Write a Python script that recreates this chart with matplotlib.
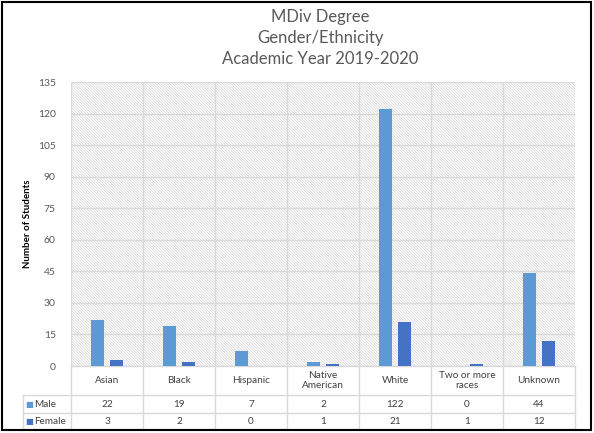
import matplotlib
matplotlib.use("Agg")
import matplotlib.pyplot as plt
from matplotlib.patches import Rectangle
from matplotlib.transforms import blended_transform_factory
import numpy as np

categories = ["Asian", "Black", "Hispanic", "Native\nAmerican", "White",
              "Two or more\nraces", "Unknown"]
male = [22, 19, 7, 2, 122, 0, 44]
female = [3, 2, 0, 1, 21, 1, 12]
series_names = ["Male", "Female"]
yticks = list(range(0, 136, 15))

title = "MDiv Degree\nGender/Ethnicity\nAcademic Year 2019-2020"
ylabel = "Number of Students"

male_color = "#5b9bd5"
female_color = "#4472c4"
grid_color = "#d9d9d9"
text_color = "#595959"

plt.rcParams["font.family"] = ["Lato", "DejaVu Sans"]
plt.rcParams["hatch.linewidth"] = 0.45

W, H = 594, 433
fig = plt.figure(figsize=(W / 100, H / 100), dpi=100)
ax = fig.add_axes([71 / W, (H - 366) / H, 504 / W, 284 / H])

x = np.arange(len(categories))
bw = 0.18
ax.bar(x - 0.138, male, bw, color=male_color, zorder=3)
ax.bar(x + 0.138, female, bw, color=female_color, zorder=3)

ax.set_xlim(-0.5, len(categories) - 0.5)
ax.set_ylim(0, 135)
ax.set_yticks(yticks)
ax.set_yticklabels([str(t) for t in yticks], fontsize=7.5, color=text_color)
ax.tick_params(axis="y", length=0, pad=11)
ax.set_xticks([])

# hatched plot area
ax.add_patch(Rectangle((0, 0), 1, 1, transform=ax.transAxes, facecolor="white",
                       edgecolor="#d0d0d0", hatch="\\" * 12, lw=0, zorder=0.1))
for t in yticks:
    ax.axhline(t, color=grid_color, lw=1, zorder=1)
for b in np.arange(-0.5, len(categories), 1.0):
    ax.axvline(b, color=grid_color, lw=1, zorder=1)
for s in ax.spines.values():
    s.set_visible(False)

# data table under the chart
tr = blended_transform_factory(ax.transData, ax.transAxes)
y_rows = [0, -0.1021, -0.1655, -0.2218]
x_left = -0.5 - 48 / 72
x_right = len(categories) - 0.5
for i, yy in enumerate(y_rows):
    x0 = -0.5 if i == 0 else x_left
    ax.plot([x0, x_right], [yy, yy], color=grid_color, lw=1, transform=tr,
            clip_on=False, zorder=1)
for b in np.arange(-0.5, len(categories), 1.0):
    ax.plot([b, b], [0, y_rows[-1]], color=grid_color, lw=1, transform=tr,
            clip_on=False, zorder=1)
ax.plot([x_left, x_left], [y_rows[1], y_rows[-1]], color=grid_color, lw=1,
        transform=tr, clip_on=False)

for i, c in enumerate(categories):
    ax.text(i, -0.051, c, transform=tr, ha="center", va="center", fontsize=7.2,
            color="#404040", linespacing=1.25)
for vals, yc, name, col in [(male, -0.134, series_names[0], male_color),
                            (female, -0.194, series_names[1], female_color)]:
    for i, v in enumerate(vals):
        ax.text(i, yc, str(v), transform=tr, ha="center", va="center",
                fontsize=7.2, color="#404040")
    ax.text(-0.5 - 42 / 72, yc, "\u25a0", transform=tr, ha="center",
            va="center", fontsize=6, color=col, family="DejaVu Sans")
    ax.text(-0.5 - 37 / 72, yc, name, transform=tr, ha="left", va="center",
            fontsize=7.2, color="#404040")

fig.text(28 / W, 1 - 224 / H, ylabel, rotation=90, ha="center", va="center",
         fontsize=7, fontweight="bold", color="black")
fig.text(320 / W, 1 - 9 / H, title, ha="center", va="top", fontsize=12,
         color=text_color, linespacing=1.38)

fig.patches.append(Rectangle((1.5 / W, (H - 430) / H), 589 / W, 428.5 / H,
                             transform=fig.transFigure, fill=False,
                             edgecolor="black", lw=1.5))

fig.savefig("out.png", dpi=100)
